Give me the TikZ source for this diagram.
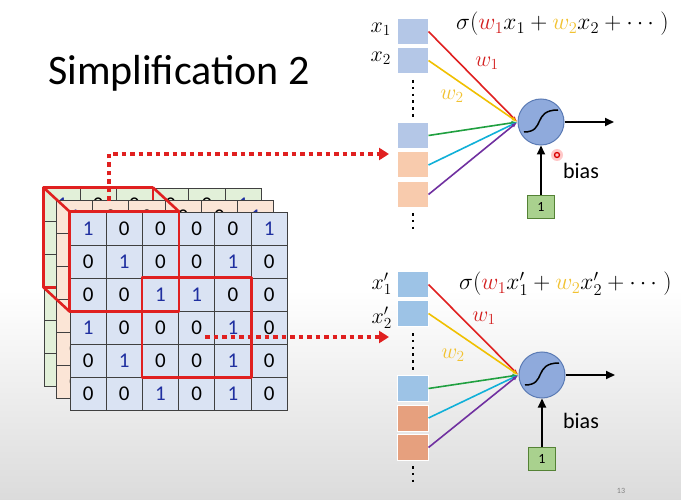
\documentclass[tikz,border=0pt]{standalone}
\usepackage{fix-cm}
\usepackage{fontspec}
\setmainfont{Carlito}
\usetikzlibrary{arrows.meta,calc}
\definecolor{frontc}{HTML}{DAE3F3}
\definecolor{peachc}{HTML}{FBE5D6}
\definecolor{greenc}{HTML}{E2F0D9}
\definecolor{gridc}{HTML}{404040}
\definecolor{numblue}{HTML}{1F2FA0}
\definecolor{redbox}{HTML}{E02020}
\definecolor{wred}{HTML}{D42020}
\definecolor{wyel}{HTML}{F2C230}
\definecolor{lyel}{HTML}{F0C000}
\definecolor{lgreen}{HTML}{20A040}
\definecolor{lcyan}{HTML}{10B0D8}
\definecolor{lpurp}{HTML}{7030A0}
\definecolor{inblueA}{HTML}{B4C7E7}
\definecolor{inpeachA}{HTML}{F8CBAD}
\definecolor{inblueB}{HTML}{9DC3E6}
\definecolor{inpeachB}{HTML}{E6A07E}
\definecolor{neuf}{HTML}{8FAADC}
\definecolor{neub}{HTML}{5B7BB5}
\definecolor{onef}{HTML}{A9D18E}
\definecolor{oneb}{HTML}{548235}
\newcommand\drawlayer[4]{%
  \foreach \row [count=\ri from 0] in {{1,0,0,0,0,1},{0,1,0,0,1,0},{0,0,1,1,0,0},{1,0,0,0,1,0},{0,1,0,0,1,0},{0,0,1,0,1,0}}{%
    \foreach \v [count=\ci from 0] in \row {%
      \ifnum\v=1 \def\dc{numblue}\else\def\dc{black}\fi
      \node[cell, fill=#4, text=\dc] (#1\ri\ci) at (#2+18.1+\ci*36.2, #3+16.5+\ri*33) {\v};
    }}}
\begin{document}
\begin{tikzpicture}[x=1pt,y=-1pt,
  cell/.style={draw=gridc, line width=0.9pt, minimum width=36.2pt, minimum height=33pt, inner sep=0pt, font=\fontsize{21}{21}\selectfont},
  redline/.style={draw=redbox, line width=2.6pt, line join=round},
  dotarrow/.style={draw=redbox, line width=4pt, dash pattern=on 4.5pt off 4pt, -{Triangle[length=10pt,width=12pt]}},
  inbox/.style={minimum width=31pt, minimum height=26pt, inner sep=0pt, draw=white, line width=1pt},
  vdots/.style={line width=2.6pt, dash pattern=on 2.6pt off 4.2pt},
  neuron/.style={circle, minimum size=46pt, inner sep=0pt, fill=neuf, draw=neub, line width=1pt},
  wire/.style={line width=1.6pt, -{Latex[length=6pt,width=4pt]}},
  arrowblk/.style={line width=2pt, -{Triangle[length=9pt,width=8pt]}},
  onebox/.style={minimum width=27pt, minimum height=23pt, inner sep=0pt, fill=onef, draw=oneb, line width=0.8pt, font=\fontsize{14}{14}\selectfont},
  mathlbl/.style={font=\fontsize{22}{22}\selectfont, inner sep=0pt},
  formula/.style={font=\fontsize{23.5}{23.5}\selectfont, inner sep=0pt, anchor=west},
  biaslbl/.style={font=\fontsize{22}{22}\selectfont, inner sep=0pt}
]
\useasboundingbox (0,0) rectangle (681,500);
% background
\fill[white] (0,0) rectangle (681,290);
\shade[top color=white, bottom color=black!14] (0,290) rectangle (681,500);

% title
\node[anchor=base west, inner sep=0pt, font=\fontsize{42}{42}\selectfont] (title) at (48,85) {Simplification 2};

% back layers
\drawlayer{g}{44}{188}{greenc}
\draw[redline] (g00.north west) rectangle (g22.south east);
\drawlayer{p}{56.5}{200.5}{peachc}
% front layer
\drawlayer{f}{70}{212}{frontc}
\draw[redline] (g00.north west) -- (f00.north west);
\draw[redline] (g02.north east) -- (f02.north east);
\draw[redline] (g20.south west) -- (f20.south west);
\draw[redline] (f00.north west) rectangle (f22.south east);
\draw[redline] (f22.north west) rectangle (f44.south east);

% dotted arrows
\coordinate (d1s) at (109,201);
\coordinate (d1e) at (389,154);
\draw[dotarrow] (d1s) |- (d1e);
\coordinate (d2s) at (205,337);
\coordinate (d2e) at (389,337);
\draw[dotarrow] (d2s) -- (d2e);

% ---------- top neuron ----------
\node[inbox, fill=inblueA] (t1) at (412.5,31.5) {};
\node[inbox, fill=inblueA] (t2) at (412.5,60.5) {};
\node[inbox, fill=inblueA] (t3) at (412.5,135.5) {};
\node[inbox, fill=inpeachA] (t4) at (412.5,165) {};
\node[inbox, fill=inpeachA] (t5) at (412.5,194.5) {};
\coordinate (tv1) at (413,80); \coordinate (tv2) at (413,118);
\draw[vdots] (tv1) -- (tv2);
\coordinate (tv3) at (413,213); \coordinate (tv4) at (413,232);
\draw[vdots] (tv3) -- (tv4);
\node[mathlbl, anchor=east] (tx1) at (391,29) {$x_1$};
\node[mathlbl, anchor=east] (tx2) at (391,58) {$x_2$};
\node[neuron] (n1) at (541,122) {};
\draw[line width=1.5pt] ($(n1)+(-17,10)$) .. controls ($(n1)+(5,10)$) and ($(n1)+(-9,-12)$) .. ($(n1)+(17,-12)$);
\draw[wire, redbox] (t1.east) -- (n1.west);
\draw[wire, lyel] (t2.east) -- (n1.west);
\draw[wire, lgreen] (t3.east) -- (n1.west);
\draw[wire, lcyan] (t4.east) -- (n1.west);
\draw[wire, lpurp] (t5.east) -- (n1.west);
\node[mathlbl, text=wred] (tw1) at (487,63) {$w_1$};
\node[mathlbl, text=wyel] (tw2) at (452,96) {$w_2$};
\coordinate (to1) at (614,122);
\draw[arrowblk] (n1.east) -- (to1);
\node[onebox] (tb) at (541,206.5) {1};
\draw[arrowblk] (tb.north) -- (n1.south);
\node[biaslbl] (tbias) at (581,171) {bias};
\node[formula] (tf) at (456,24) {$\sigma(\textcolor{wred}{w_1}x_1+\textcolor{wyel}{w_2}x_2+\cdots\;)$};
% laser pointer dot
\fill[red!30, opacity=0.7] (557,155) circle (6);
\draw[red!85!black, line width=1.3pt] (557,155) circle (2.5);

% ---------- bottom neuron ----------
\node[inbox, fill=inblueB] (b1) at (412.5,284.5) {};
\node[inbox, fill=inblueB] (b2) at (412.5,313.5) {};
\node[inbox, fill=inblueB] (b3) at (412.5,388.5) {};
\node[inbox, fill=inpeachB] (b4) at (412.5,418) {};
\node[inbox, fill=inpeachB] (b5) at (412.5,447.5) {};
\coordinate (bv1) at (413,333); \coordinate (bv2) at (413,371);
\draw[vdots] (bv1) -- (bv2);
\coordinate (bv3) at (413,466); \coordinate (bv4) at (413,485);
\draw[vdots] (bv3) -- (bv4);
\node[mathlbl, anchor=east] (bx1) at (392,284) {$x_1'$};
\node[mathlbl, anchor=east] (bx2) at (392,318) {$x_2'$};
\node[neuron] (n2) at (542,375) {};
\draw[line width=1.5pt] ($(n2)+(-17,10)$) .. controls ($(n2)+(5,10)$) and ($(n2)+(-9,-12)$) .. ($(n2)+(17,-12)$);
\draw[wire, redbox] (b1.east) -- (n2.west);
\draw[wire, lyel] (b2.east) -- (n2.west);
\draw[wire, lgreen] (b3.east) -- (n2.west);
\draw[wire, lcyan] (b4.east) -- (n2.west);
\draw[wire, lpurp] (b5.east) -- (n2.west);
\node[mathlbl, text=wred] (bw1) at (484,318) {$w_1$};
\node[mathlbl, text=wyel] (bw2) at (453,355) {$w_2$};
\coordinate (bo1) at (615,375);
\draw[arrowblk] (n2.east) -- (bo1);
\node[onebox] (bb) at (542,458.5) {1};
\draw[arrowblk] (bb.north) -- (n2.south);
\node[biaslbl] (bbias) at (581,421) {bias};
\node[formula] (bf) at (459,284) {$\sigma(\textcolor{wred}{w_1}x_1'+\textcolor{wyel}{w_2}x_2'+\cdots\;)$};

\node[text=gray, font=\fontsize{8}{8}\selectfont] (pg) at (621,491) {13};
\end{tikzpicture}
\end{document}
